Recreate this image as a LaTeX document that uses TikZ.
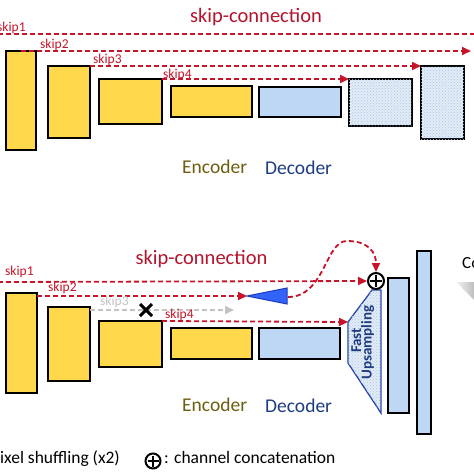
\documentclass[tikz,border=0pt]{standalone}
\usepackage{fontspec}
\setmainfont{Carlito}
\usetikzlibrary{arrows.meta,patterns}
\definecolor{skipred}{RGB}{200,20,40}
\definecolor{titlered}{RGB}{180,20,45}
\definecolor{encyel}{RGB}{255,217,75}
\definecolor{declb}{RGB}{190,215,245}
\definecolor{dotbg}{RGB}{226,236,247}
\definecolor{dotfg}{RGB}{172,196,228}
\definecolor{enctext}{RGB}{110,95,15}
\definecolor{dectext}{RGB}{30,60,130}
\definecolor{gskip}{RGB}{195,195,195}
\definecolor{trifill}{RGB}{50,100,250}
\definecolor{triedge}{RGB}{30,60,190}
\definecolor{upedge}{RGB}{35,65,170}
\begin{document}
\begin{tikzpicture}[x=1pt,y=-1pt,
  blk/.style={draw=black,line width=1.8pt,inner sep=0pt,outer sep=0pt},
  yblk/.style={blk,fill=encyel},
  bblk/.style={blk,fill=declb},
  dblk/.style={blk,fill=dotbg,postaction={pattern=crosshatch dots,pattern color=dotfg}},
  skipline/.style={draw=skipred,line width=1.8pt,dash pattern=on 5pt off 3pt},
  skiparrow/.style={skipline,-{Triangle[length=9pt,width=8pt]}},
  grayarrow/.style={draw=gskip,line width=1.8pt,dash pattern=on 5pt off 3pt,-{Triangle[length=9pt,width=8pt]}},
  skiplbl/.style={anchor=base west,inner sep=0pt,text=skipred,font=\fontsize{13.5}{15}\selectfont},
  title/.style={anchor=base,inner sep=0pt,text=titlered,font=\fontsize{20.5}{23}\selectfont},
  enclbl/.style={anchor=base west,inner sep=0pt,text=enctext,font=\fontsize{19.5}{22}\selectfont},
  declbl/.style={anchor=base west,inner sep=0pt,text=dectext,font=\fontsize{19.5}{22}\selectfont},
  legend/.style={anchor=base west,inner sep=0pt,font=\fontsize{17.5}{20}\selectfont},
  oplus/.style={circle,draw=black,line width=2pt,fill=white,minimum size=16pt,inner sep=0pt},
  uptext/.style={anchor=base,inner sep=0pt,rotate=90,text=dectext,font=\bfseries\fontsize{15}{17}\selectfont}
]
\useasboundingbox (0,0) rectangle (474,474);
\fill[white] (0,0) rectangle (474,474);

% ---------- top panel ----------
\node[title] (t1) at (256,22) {skip-connection};

\node[yblk,minimum width=30pt,minimum height=99pt] (B1t) at (21,100.5) {};
\node[yblk,minimum width=42pt,minimum height=72pt] (B2t) at (69,102) {};
\node[yblk,minimum width=63pt,minimum height=45pt] (B3t) at (130.5,101.5) {};
\node[yblk,minimum width=81pt,minimum height=31pt] (B4t) at (211.5,101.5) {};
\node[bblk,minimum width=82pt,minimum height=30pt] (D1t) at (300,102) {};
\node[dblk,minimum width=63pt,minimum height=47pt] (D2t) at (380.5,102.5) {};
\node[dblk,minimum width=43pt,minimum height=73pt] (D3t) at (442.5,102.5) {};

\coordinate (s1a) at (-2,34);
\coordinate (s1b) at (476,34);
\coordinate (s2b) at (471,51);
\draw[skipline] (s1a) -- (s1b);
\draw[skiparrow] (B1t.north) -- (s2b);
\draw[skiparrow] (B2t.north east) -- (D3t.north west);
\draw[skiparrow] (B3t.north east) -- (D2t.north west);

\node[skiplbl] (l1t) at (-3,31) {skip1};
\node[skiplbl] (l2t) at (40,48) {skip2};
\node[skiplbl] (l3t) at (93,63) {skip3};
\node[skiplbl] (l4t) at (163,78) {skip4};

\node[enclbl] (enct) at (182,173) {Encoder};
\node[declbl] (dect) at (265,174) {Decoder};

% ---------- bottom panel ----------
\node[title] (t2) at (201.5,264) {skip-connection};

\node[yblk,minimum width=31pt,minimum height=100pt] (B1b) at (21.5,343) {};
\node[yblk,minimum width=42pt,minimum height=74pt] (B2b) at (69,344) {};
\node[yblk,minimum width=63pt,minimum height=46pt] (B3b) at (130.5,344) {};
\node[yblk,minimum width=81pt,minimum height=31pt] (B4b) at (211.5,343.5) {};
\node[bblk,minimum width=81pt,minimum height=31pt] (D1b) at (299.5,343.5) {};
\node[bblk,minimum width=21pt,minimum height=135pt] (R1) at (398.5,345.5) {};
\node[bblk,minimum width=14pt,minimum height=183pt] (R2) at (424,342.5) {};

% fast upsampling trapezoid
\coordinate (tzT) at (372,290);
\coordinate (tzR) at (381,290);
\coordinate (tzB) at (381,413);
\coordinate (tzC) at (348,363);
\coordinate (tzA) at (348,322);
\draw[draw=upedge,line width=1.3pt,fill=dotbg,postaction={pattern=crosshatch dots,pattern color=dotfg}]
  (tzT) -- (tzR) -- (tzB) -- (tzC) -- (tzA) -- cycle;
\node[uptext] (fast) at (361,340.5) {Fast};
\node[uptext] (ups) at (371.5,342.5) {Upsampling};

% concatenation
\node[oplus] (plus) at (376,281) {};
\draw[line width=2.6pt] ([yshift=6pt]plus.center) -- ([yshift=-6pt]plus.center);
\draw[line width=2.6pt] ([xshift=-6pt]plus.center) -- ([xshift=6pt]plus.center);

% pixel shuffling triangle
\coordinate (tritip) at (247,296);
\coordinate (tribt) at (287,288);
\coordinate (tribb) at (287,304);
\coordinate (tribase) at (288,297);
\draw[draw=triedge,line width=1pt,fill=trifill] (tritip) -- (tribt) -- (tribb) -- cycle;

% skip lines
\coordinate (s1c) at (-2,282);
\coordinate (s2c) at (37,296);
\coordinate (s3c) at (90,310);
\coordinate (s3e) at (234,310);
\coordinate (apex) at (347,241);
\draw[skiparrow] (s1c) -- (plus.west);
\draw[skiparrow] (s2c) -- (tritip);
\draw[grayarrow] (s3c) -- (s3e);
\draw[skiparrow] (B3b.north east) -- (tzA);
\draw[skiparrow] (tribase) .. controls (325,297) and (325,241) .. (apex)
  .. controls (368,241) and (376,252) .. (plus.north);

% cross mark on skip3
\coordinate (xc) at (146,310);
\draw[line width=3pt] ([shift={(-6pt,-6pt)}]xc) -- ([shift={(6pt,6pt)}]xc);
\draw[line width=3pt] ([shift={(-6pt,6pt)}]xc) -- ([shift={(6pt,-6pt)}]xc);

\node[skiplbl] (l1b) at (5,275) {skip1};
\node[skiplbl] (l2b) at (48,291) {skip2};
\node[skiplbl,text=gskip] (l3b) at (100,305) {skip3};
\node[skiplbl] (l4b) at (165,318) {skip4};

\node[enclbl] (encb) at (182,411) {Encoder};
\node[declbl] (decb) at (265,412) {Decoder};

% cut-off elements on the right
\node[legend,font=\fontsize{17}{19}\selectfont] (co) at (462,268) {Co};
\shade[left color=gray!10,right color=gray!55] (456,282) -- (476,282) -- (476,302) -- cycle;

% legend
\node[legend,anchor=base east] (pix) at (120,463) {Pixel shuffling (x2)};
\node[oplus,minimum size=15pt] (lplus) at (153,461) {};
\draw[line width=2.6pt] ([yshift=5.5pt]lplus.center) -- ([yshift=-5.5pt]lplus.center);
\draw[line width=2.6pt] ([xshift=-5.5pt]lplus.center) -- ([xshift=5.5pt]lplus.center);
\node[legend] (cc) at (164,463) {: channel concatenation};
\end{tikzpicture}
\end{document}
